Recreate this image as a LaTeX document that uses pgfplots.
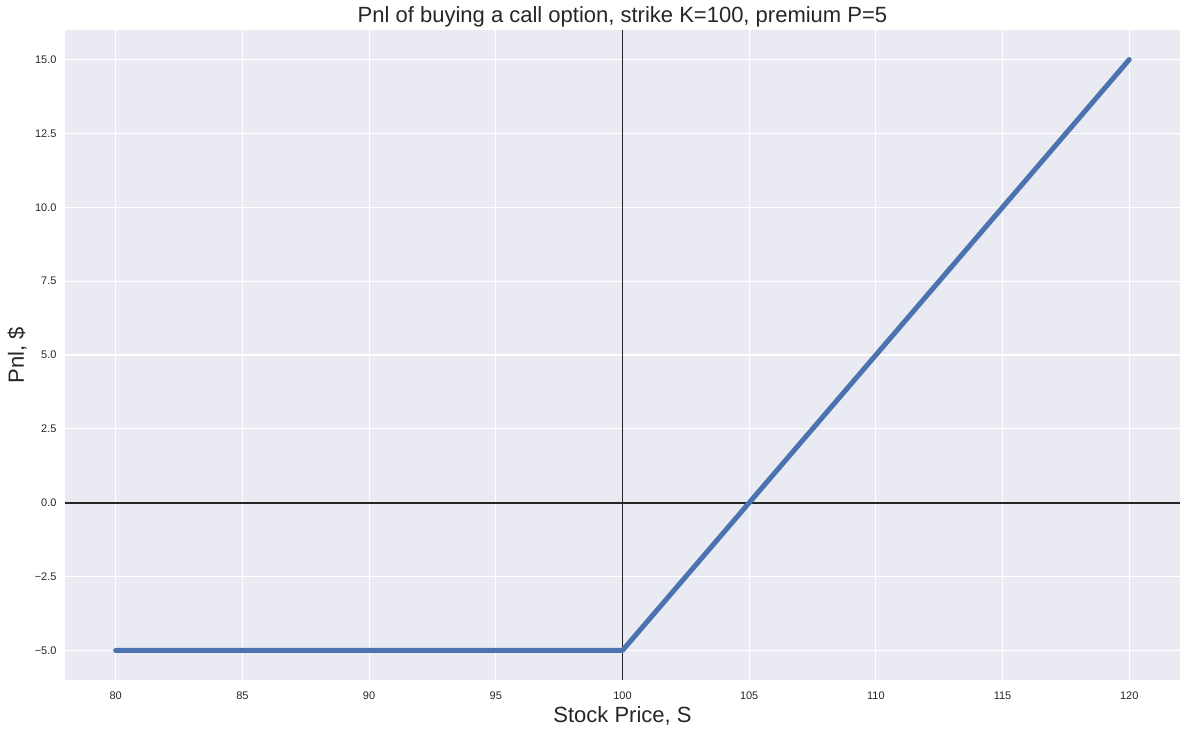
\documentclass[border=0pt]{standalone}
\usepackage{pgfplots}
\pgfplotsset{compat=1.18}
\usepackage{fontspec}
\setmainfont{Liberation Sans}
\definecolor{bgc}{HTML}{EAEAF2}
\definecolor{linec}{HTML}{4C72B0}
\definecolor{txt}{HTML}{262626}
\begin{document}
\begin{tikzpicture}
\useasboundingbox (-65pt,-52pt) rectangle (1121pt,680pt);
\begin{axis}[
  at={(0pt,0pt)}, anchor=south west,
  scale only axis, width=1115pt, height=650pt,
  xmin=78, xmax=122, ymin=-6, ymax=16,
  axis background/.style={fill=bgc},
  axis line style={draw=none},
  major tick length=0pt,
  grid=major,
  major grid style={white, line width=1.1pt},
  xtick={80,85,...,120},
  ytick={-5,-2.5,0,2.5,5,7.5,10,12.5,15},
  yticklabels={−5.0,−2.5,0.0,2.5,5.0,7.5,10.0,12.5,15.0},
  /pgf/number format/assume math mode=true,
  tick label style={font=\fontsize{11}{13}\selectfont, text=txt},
  xticklabel style={yshift=-8pt},
  yticklabel style={xshift=-5pt},
  title={Pnl of buying a call option, strike K=100, premium P=5},
  title style={at={(axis description cs:0.5,1)}, anchor=base, yshift=1pt, font=\fontsize{22}{26}\selectfont, text=txt},
  xlabel={Stock Price, S},
  xlabel style={at={(axis description cs:0.5,0)}, anchor=base, yshift=-42pt, font=\fontsize{22}{26}\selectfont, text=txt},
  ylabel={Pnl, \$},
  ylabel style={at={(axis description cs:0,0.5)}, anchor=base, yshift=41pt, font=\fontsize{22}{26}\selectfont, text=txt},
  clip=true,
]
\addplot[txt, line width=1.8pt, forget plot] coordinates {(78,0) (122,0)};
\addplot[txt, line width=1.8pt, forget plot] coordinates {(100,-6) (100,16)};
\addplot[linec, line width=5pt, line cap=round, line join=round, no marks] coordinates {(80,-5) (100,-5) (120,15)};
\end{axis}
\end{tikzpicture}
\end{document}
